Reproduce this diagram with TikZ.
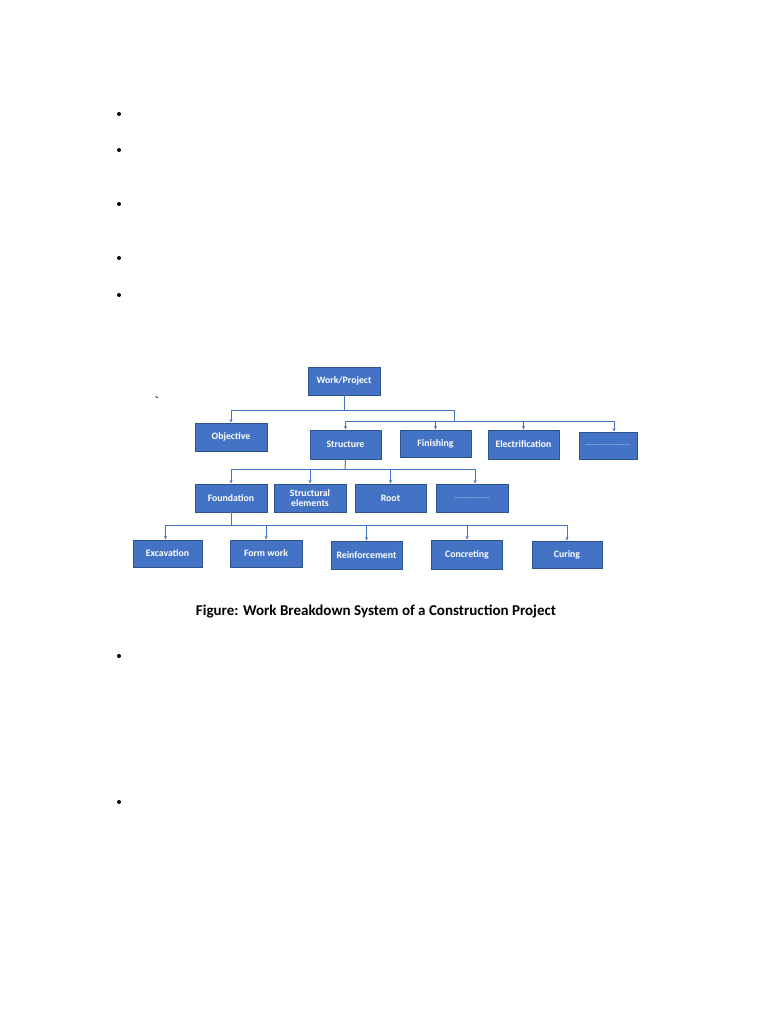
\documentclass[tikz,border=0pt]{standalone}
\usepackage{fontspec}
\setmainfont{Carlito}
\setmonofont{Liberation Mono}
\usetikzlibrary{arrows.meta}
\definecolor{boxfill}{HTML}{4472C4}
\definecolor{boxline}{HTML}{2F528F}
\definecolor{linkblue}{HTML}{4472C4}
\tikzset{
  wbs/.style={draw=boxline, line width=0.9pt, fill=boxfill, text=white,
    font=\bfseries\fontsize{9.8}{10.5}\selectfont, align=center, inner sep=1pt,
    minimum width=72pt, minimum height=28pt},
  link/.style={draw=linkblue, line width=1pt},
  arr/.style={link, -{Stealth[length=3.5pt,width=3pt]}},
  bullet/.style={fill=black},
  dotsfont/.style={font=\fontsize{6}{6}\selectfont}
}
\begin{document}
\begin{tikzpicture}[x=1pt,y=-1pt]
\useasboundingbox (0,0) rectangle (768,1024);
% bullets
\foreach \yy in {114,150,204,258,295,656,802}
  \fill[bullet] (119,\yy) circle (2);
\node[font=\ttfamily\bfseries\fontsize{12}{12}\selectfont] (tick) at (157,401) {`};

% boxes
\node[wbs] (wp)  at (344,381)   {Work/Project};
\node[wbs] (obj) at (231,437)   {Objective};
\node[wbs, minimum width=71pt, minimum height=29pt] (str) at (345.5,444.5) {Structure};
\node[wbs, minimum width=71pt, minimum height=27pt] (fin) at (435.5,443.5) {Finishing};
\node[wbs, minimum width=71pt, minimum height=29pt] (ele) at (523.5,444.5) {Electrification};
\node[wbs, minimum width=58pt, minimum height=27pt, dotsfont] (dt1) at (608,445.5) {..............................};

\node[wbs] (fou) at (231,498) {Foundation};
\node[wbs] (sel) at (310,498) {Structural\\[-1pt]elements};
\node[wbs, minimum width=71pt] (roo) at (390.5,498) {Root};
\node[wbs, dotsfont] (dt2) at (472,498) {.......................};

\node[wbs, minimum width=69pt, minimum height=27pt] (exc) at (167.5,553.5) {Excavation};
\node[wbs, minimum height=27pt] (frm) at (266,553.5) {Form work};
\node[wbs, minimum width=71pt] (rei) at (366.5,555) {Reinforcement};
\node[wbs, minimum width=71pt, minimum height=29pt] (con) at (467,554.5) {Concreting};
\node[wbs, minimum width=70pt, minimum height=27pt] (cur) at (567,554.5) {Curing};

% level 1 connectors
\coordinate (j1) at (344,410);
\coordinate (j1r) at (454,410);
\coordinate (j2r) at (454,421);
\draw[link] (wp.south) -- (j1);
\draw[arr] (j1) -| (obj.north);
\draw[link] (j1) -- (j1r) -- (j2r);
\draw[arr] (j2r) -| (str.north);
\draw[arr] (j2r) -| ([xshift=6pt]dt1.north);
\draw[arr] (fin.north |- j2r) -- (fin.north);
\draw[arr] (ele.north |- j2r) -- (ele.north);

% level 2 connectors
\coordinate (j3) at (345,469);
\draw[link] (str.south) -- (j3);
\draw[arr] (j3) -| (fou.north);
\draw[arr] (j3) -| ([xshift=3pt]dt2.north);
\draw[arr] (sel.north |- j3) -- (sel.north);
\draw[arr] (roo.north |- j3) -- (roo.north);

% level 3 connectors
\coordinate (j4) at (231,525);
\draw[link] (fou.south) -- (j4);
\draw[arr] (j4) -| ([xshift=-2pt]exc.north);
\draw[arr] (j4) -| (cur.north);
\draw[arr] (frm.north |- j4) -- (frm.north);
\draw[arr] (rei.north |- j4) -- (rei.north);
\draw[arr] (con.north |- j4) -- (con.north);

% caption
\node[font=\bfseries\fontsize{15}{17}\selectfont, anchor=center] (cap) at (376,611)
  {Figure: Work Breakdown System of a Construction Project};
\end{tikzpicture}
\end{document}
